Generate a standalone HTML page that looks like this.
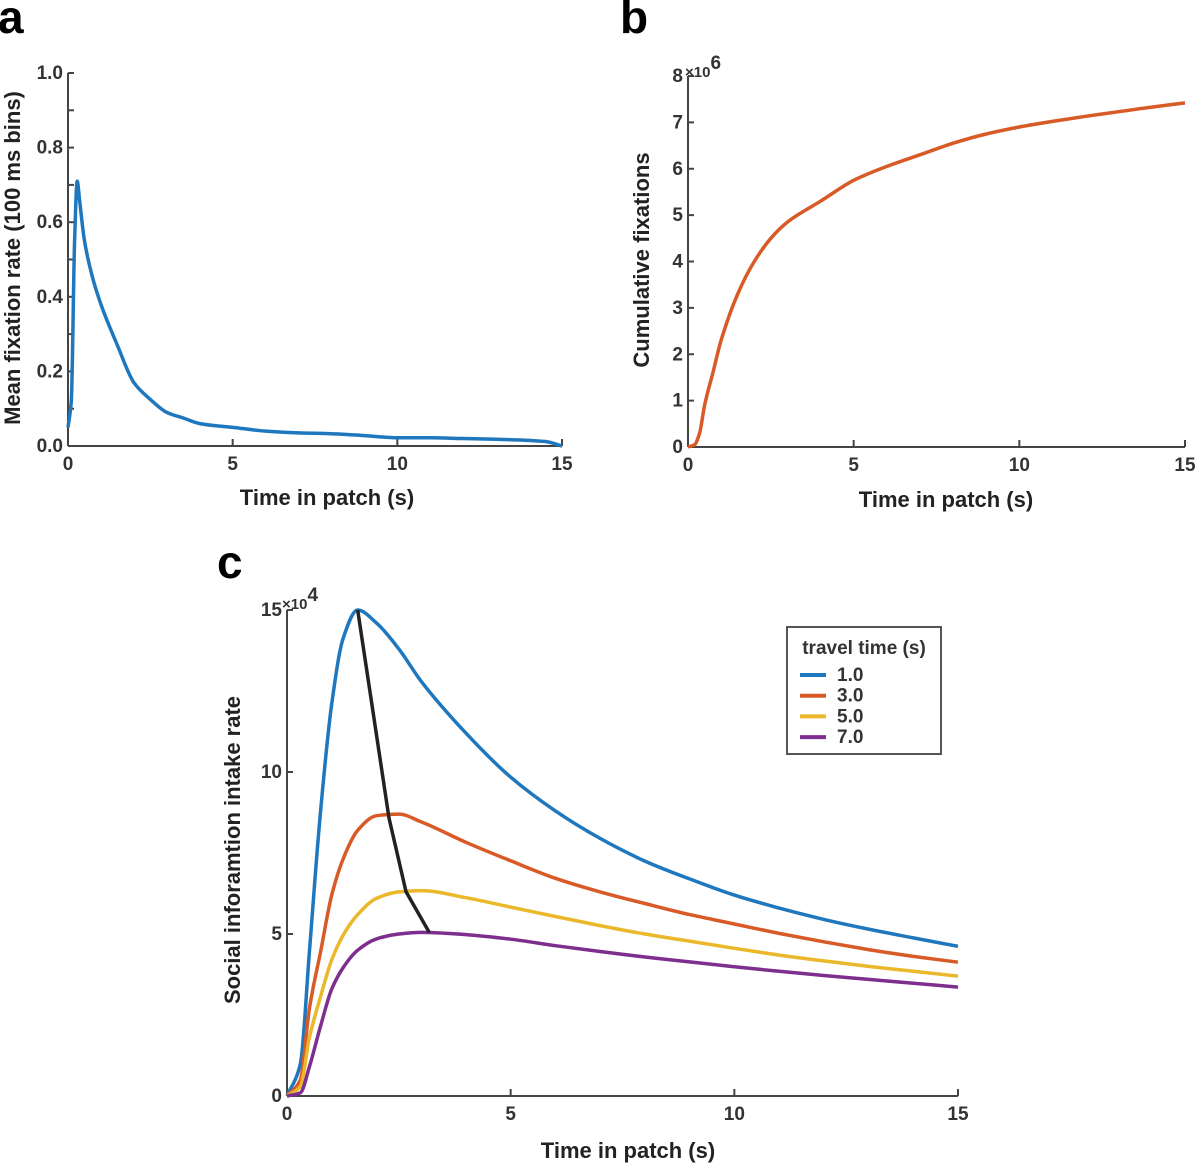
<!DOCTYPE html>
<html><head><meta charset="utf-8"><style>
html,body{margin:0;padding:0;background:#fff;}
svg{display:block;font-family:"Liberation Sans",Arial,sans-serif;}
.tk{font-size:19px;font-weight:bold;fill:#333;}
.ttl{font-size:22px;font-weight:bold;fill:#222;}
.pl{font-size:46px;font-weight:bold;fill:#000;}
.ax{stroke:#444;stroke-width:2;fill:none;}
</style></head><body>
<svg id="fig" width="1200" height="1164" viewBox="0 0 1200 1164">
<g id="ga"></g>
<g id="gb"></g>
<g id="gc"></g>
</svg>
<script>
// Panel a data
const aTime = [0,0.1,0.2,0.28,0.35,0.5,0.75,1,1.5,2,2.5,3,3.5,4,5,6,7,8,9,10,11,12,13,14,14.5,15];
const aRate = [0.05,0.12,0.55,0.71,0.66,0.55,0.45,0.38,0.27,0.17,0.125,0.09,0.075,0.06,0.05,0.04,0.035,0.033,0.028,0.022,0.022,0.02,0.018,0.015,0.012,0];
const aYTicks = [0,0.2,0.4,0.6,0.8,1.0];
const aYLabels = ["0.0","0.2","0.4","0.6","0.8","1.0"];
const xTicks = [0,5,10,15];
// Panel b data (x10^6)
const bTime = [0,0.2,0.35,0.5,0.75,1,1.5,2,2.5,3,4,5,6,7,8,9,10,11,12,13,14,15];
const bCum = [0,0.05,0.3,0.9,1.6,2.3,3.3,4.0,4.5,4.85,5.3,5.75,6.05,6.3,6.55,6.75,6.9,7.02,7.13,7.23,7.33,7.42];
const bYTicks = [0,1,2,3,4,5,6,7,8];
// Panel c data (x10^4)
const cTime = [0,0.3,0.5,0.75,1,1.25,1.58,2,2.5,3,4,5,6,7,8,9,10,11,12,13,14,15];
const cTravel = ["1.0","3.0","5.0","7.0"];
const cBlue   = [0,1.0,4.45,8.8,12.1,14.1,15,14.6,13.8,12.8,11.2,9.84,8.8,7.95,7.25,6.7,6.2,5.8,5.45,5.15,4.88,4.62];
const cRed    = [0,0.5,2.7,4.45,6.2,7.3,8.2,8.65,8.7,8.46,7.83,7.26,6.72,6.3,5.94,5.6,5.31,5.02,4.76,4.52,4.31,4.13];
const cYellow = [0,0.3,1.8,3.07,4.2,4.95,5.6,6.1,6.3,6.34,6.12,5.83,5.54,5.26,5.0,4.78,4.56,4.35,4.17,4.0,3.85,3.70];
const cPurple = [0,0.1,0.9,2.16,3.3,3.95,4.5,4.85,5.0,5.05,4.98,4.84,4.64,4.46,4.29,4.14,3.99,3.85,3.72,3.6,3.48,3.36];
const peakTime = [1.58,2.28,2.66,3.18];
const peakVal  = [15,8.58,6.31,5.05];
const cYTicks = [0,5,10,15];
const colors = ["#1f77bd","#d85a27","#eab82a","#7e2f8e"];

const NS="http://www.w3.org/2000/svg";
function mk(p,tag,at,txt){const e=document.createElementNS(NS,tag);for(const k in at)e.setAttribute(k,at[k]);if(txt!==undefined)e.textContent=txt;p.appendChild(e);return e;}
function lin(d0,d1,r0,r1){return v=>r0+(v-d0)/(d1-d0)*(r1-r0);}
// monotone cubic (Fritsch-Carlson) in pixel space
function smooth(pts){const n=pts.length,dx=[],m=[],t=[];
 for(let i=0;i<n-1;i++){dx[i]=pts[i+1][0]-pts[i][0];m[i]=(pts[i+1][1]-pts[i][1])/dx[i];}
 t[0]=m[0];t[n-1]=m[n-2];
 for(let i=1;i<n-1;i++){if(m[i-1]*m[i]<=0)t[i]=0;else{const w1=2*dx[i]+dx[i-1],w2=dx[i]+2*dx[i-1];t[i]=(w1+w2)/(w1/m[i-1]+w2/m[i]);}}
 let d="M"+pts[0][0].toFixed(1)+","+pts[0][1].toFixed(1);
 for(let i=0;i<n-1;i++){const h=dx[i]/3;
  d+=" C"+(pts[i][0]+h).toFixed(1)+","+(pts[i][1]+t[i]*h).toFixed(1)+" "+(pts[i+1][0]-h).toFixed(1)+","+(pts[i+1][1]-t[i+1]*h).toFixed(1)+" "+pts[i+1][0].toFixed(1)+","+pts[i+1][1].toFixed(1);}
 return d;}

function axes(g,x,y,x0,x1,y0,y1,yt,ylab,minor){
 const xa=mk(g,"path",{class:"ax",d:`M${x0},${y0} V${y1} M${x0},${y0} H${x1}`});
 
 
 xTicks.forEach(v=>{const px=x(v);mk(g,"line",{x1:px,x2:px,y1:y0,y2:y0-7,stroke:"#444","stroke-width":2});
  const t=mk(g,"text",{x:px,y:y0+24,"text-anchor":"middle",class:"tk"},String(v));
  
  });
 yt.forEach((v,i)=>{const py=y(v);mk(g,"line",{x1:x0,x2:x0+6,y1:py,y2:py,stroke:"#444","stroke-width":2});
  const t=mk(g,"text",{x:x0-5,y:py+6,"text-anchor":"end",class:"tk"},ylab?ylab[i]:String(v));
  
  });
 if(minor)minor.forEach(v=>{const py=y(v);mk(g,"line",{x1:x0,x2:x0+6,y1:py,y2:py,stroke:"#444","stroke-width":2});});
}
function expo(g,xx,yy,p){const e=mk(g,"text",{x:xx,y:yy,class:"tk"});
 
 mk(e,"tspan",{style:"font-size:15px"},"×10");mk(e,"tspan",{dy:-8},p);}
// Panel a
(function(){const g=document.getElementById("ga");
 const x=lin(0,15,68,562),y=lin(0,1,446,73);
 const L=mk(g,"text",{x:-2,y:33,class:"pl"},"a");
 axes(g,x,y,68,562,446,73,aYTicks,aYLabels,[0.1,0.3,0.5,0.7,0.9]);
 const p=mk(g,"path",{d:smooth(aTime.map((t,i)=>[x(t),y(aRate[i])])),stroke:colors[0],"stroke-width":3.5,fill:"none"});
 
 const xt=mk(g,"text",{x:327,y:505,"text-anchor":"middle",class:"ttl"},"Time in patch (s)");
 
 const yt=mk(g,"text",{x:0,y:0,"text-anchor":"middle",class:"ttl",transform:"translate(20,258) rotate(-90)"},"Mean fixation rate (100 ms bins)");
 
})();
// Panel b
(function(){const g=document.getElementById("gb");
 const x=lin(0,15,688,1185),y=lin(0,8,447,76);
 const L=mk(g,"text",{x:620,y:33,class:"pl"},"b");
 axes(g,x,y,688,1185,447,76,bYTicks,null,null);
 expo(g,685,77,"6");
 const p=mk(g,"path",{d:smooth(bTime.map((t,i)=>[x(t),y(bCum[i])])),stroke:colors[1],"stroke-width":3.5,fill:"none"});
 
 const xt=mk(g,"text",{x:946,y:507,"text-anchor":"middle",class:"ttl"},"Time in patch (s)");
 
 const yt=mk(g,"text",{x:0,y:0,"text-anchor":"middle",class:"ttl",transform:"translate(649,260) rotate(-90)"},"Cumulative fixations");
 
})();
// Panel c
(function(){const g=document.getElementById("gc");
 const x=lin(0,15,287,958),y=lin(0,15,1096,610);
 const L=mk(g,"text",{x:217,y:578,class:"pl"},"c");
 axes(g,x,y,287,958,1096,610,cYTicks,null,null);
 expo(g,282,609,"4");
 [cBlue,cRed,cYellow,cPurple].forEach((s,k)=>{
  const p=mk(g,"path",{d:smooth(cTime.map((t,i)=>[x(t),y(s[i])])),stroke:colors[k],"stroke-width":3.5,fill:"none"});
  
  });
 const pk=mk(g,"polyline",{points:peakTime.map((t,i)=>x(t)+","+y(peakVal[i])).join(" "),stroke:"#222","stroke-width":3.5,fill:"none"});
 
 const lg=mk(g,"g",{});
 mk(lg,"rect",{x:787,y:627,width:154,height:127,fill:"#fff",stroke:"#555","stroke-width":2});
 mk(lg,"text",{x:864,y:654,"text-anchor":"middle",class:"tk",style:"font-size:19px"},"travel time (s)");
 cTravel.forEach((lab,k)=>{const yy=675+k*20.7;
  const le=mk(lg,"g",{});
  mk(le,"line",{x1:800,x2:826,y1:yy,y2:yy,stroke:colors[k],"stroke-width":4});
  mk(le,"text",{x:837,y:yy+6,class:"tk"},lab);});
 const xt=mk(g,"text",{x:628,y:1158,"text-anchor":"middle",class:"ttl"},"Time in patch (s)");
 
 const yt=mk(g,"text",{x:0,y:0,"text-anchor":"middle",class:"ttl",transform:"translate(240,850) rotate(-90)"},"Social inforamtion intake rate");
 
})();
</script>
</body></html>
